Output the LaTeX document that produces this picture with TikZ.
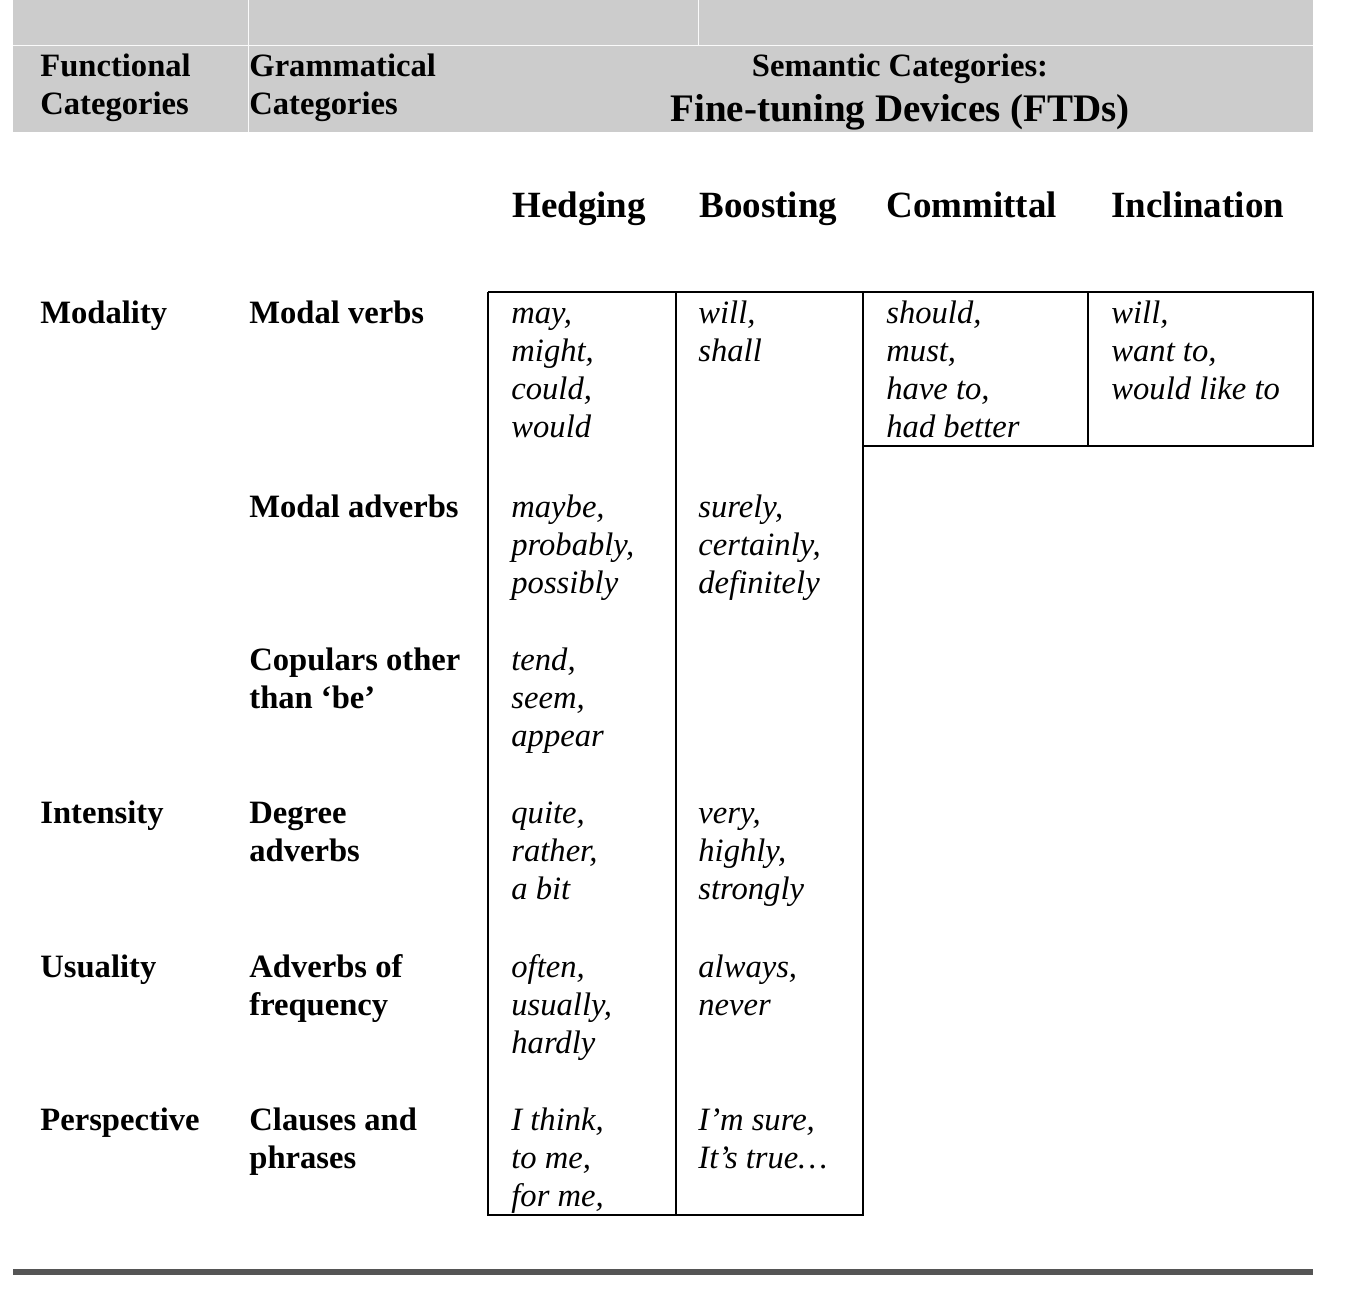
\documentclass[tikz,border=0pt]{standalone}
\usepackage{fontspec}
\setmainfont{Liberation Serif}
\definecolor{bandgray}{HTML}{CCCCCC}
\definecolor{rulegray}{HTML}{555555}
\tikzset{
  txt/.style={anchor=base west, inner sep=0pt, font=\fontsize{16.3}{19}\selectfont},
  cat/.style={txt, font=\fontsize{16.3}{19}\selectfont\bfseries},
  ex/.style={txt, font=\fontsize{16.3}{19}\selectfont\itshape},
  colhead/.style={txt, font=\fontsize{18.5}{22}\selectfont\bfseries},
  grid/.style={line width=0.8pt}
}
% lines of a cell, 38px apart
\newcommand{\cellat}[4]{%
  \foreach \t [count=\i from 0] in {#4}
    \node[#1] at (#2,#3+38*\i) {\t};}
\begin{document}
\begin{tikzpicture}[x=0.5pt, y=-0.5pt]
	\useasboundingbox (0,0) rectangle (1347,1289);
	\fill[bandgray] (13,0) rectangle (1313,132);
	\draw[white!90!bandgray, line width=0.4pt] (13,45) -- (1313,45) (248,0) -- (248,132) (698,0) -- (698,45);
	\fill[rulegray] (13,1269) rectangle (1313,1275);

	% header
	\cellat{cat}{40}{77}{Functional,Categories}
	\cellat{cat}{249}{77}{Grammatical,Categories}
	\node[txt, font=\fontsize{16.3}{19}\selectfont\bfseries, anchor=base] (sem) at (900,77) {Semantic Categories:};
	\node[txt, font=\fontsize{19.5}{22}\selectfont\bfseries, anchor=base] (ftd) at (900,122) {Fine-tuning Devices (FTDs)};
	\node[colhead] (hedg) at (512,218) {Hedging};
	\node[colhead] (boost) at (699,218) {Boosting};
	\node[colhead] (comm) at (886,218) {Committal};
	\node[colhead] (incl) at (1111,218) {Inclination};

	% table frame
	\draw[grid] (488,292) -- (1313,292) -- (1313,446) -- (863,446);
	\draw[grid] (1088,292) -- (1088,446);
	\draw[grid] (488,292) -- (488,1215) -- (863,1215) -- (863,292);
	\draw[grid] (676,292) -- (676,1215);

	% rows
	\cellat{cat}{40}{323}{Modality}
	\cellat{cat}{249}{323}{Modal verbs}
	\cellat{ex}{511}{323}{{may,},{might,},{could,},would}
	\cellat{ex}{698}{323}{{will,},shall}
	\cellat{ex}{886}{323}{{should,},{must,},{have to,},had better}
	\cellat{ex}{1111}{323}{{will,},{want to,},would like to}

	\cellat{cat}{249}{517}{Modal adverbs}
	\cellat{ex}{511}{517}{{maybe,},{probably,},possibly}
	\cellat{ex}{698}{517}{{surely,},{certainly,},definitely}

	\cellat{cat}{249}{670}{Copulars other,than ‘be’}
	\cellat{ex}{511}{670}{{tend,},{seem,},appear}

	\cellat{cat}{40}{823}{Intensity}
	\cellat{cat}{249}{823}{Degree,adverbs}
	\cellat{ex}{511}{823}{{quite,},{rather,},a bit}
	\cellat{ex}{698}{823}{{very,},{highly,},strongly}

	\cellat{cat}{40}{977}{Usuality}
	\cellat{cat}{249}{977}{Adverbs of,frequency}
	\cellat{ex}{511}{977}{{often,},{usually,},hardly}
	\cellat{ex}{698}{977}{{always,},never}

	\cellat{cat}{40}{1130}{Perspective}
	\cellat{cat}{249}{1130}{Clauses and,phrases}
	\cellat{ex}{511}{1130}{{I think,},{to me,},{for me,}}
	\cellat{ex}{698}{1130}{{I’m sure,},It’s true…}
\end{tikzpicture}
\end{document}
